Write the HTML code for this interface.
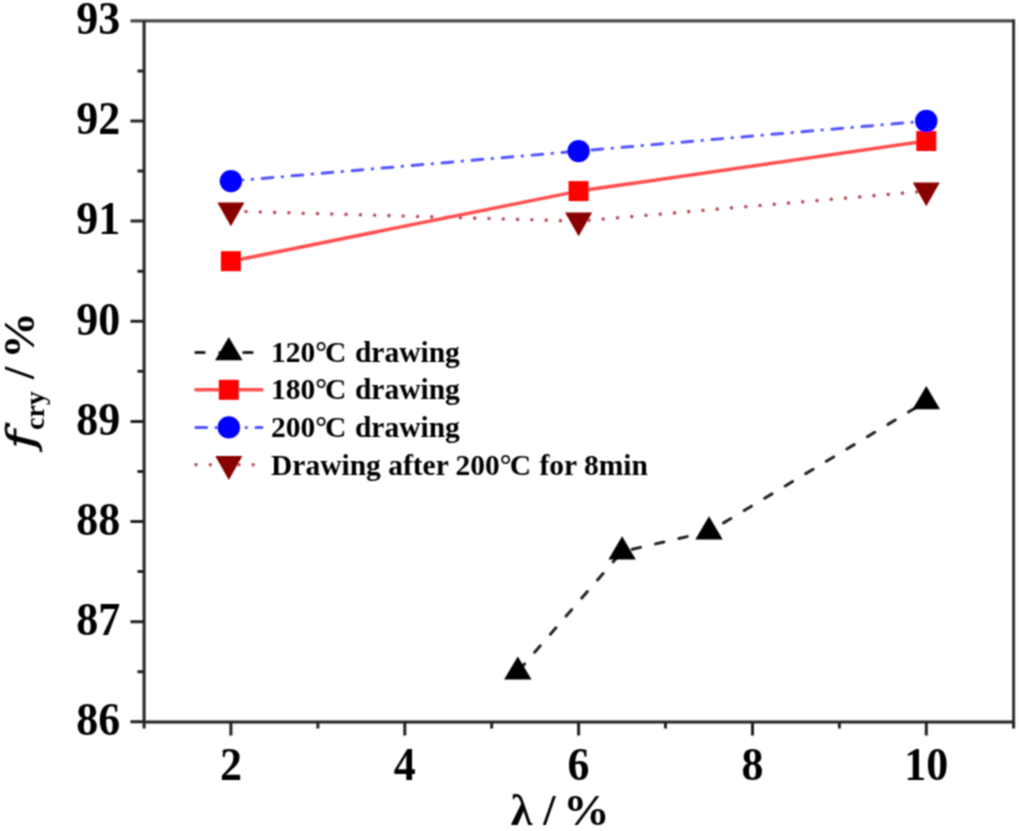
<!DOCTYPE html><html><head><meta charset="utf-8"><style>html,body{margin:0;padding:0;background:#fff;}svg{display:block;}text{font-family:"Liberation Serif",serif;font-weight:bold;fill:#000;}</style></head><body>
<svg width="1020" height="831" viewBox="0 0 1020 831">
<defs><filter id="bl" x="0" y="0" width="1020" height="831" filterUnits="userSpaceOnUse"><feConvolveMatrix order="3" kernelMatrix="1 2 1 2 4 2 1 2 1" divisor="0" edgeMode="duplicate" preserveAlpha="false"/></filter></defs>
<rect width="1020" height="831" fill="#fff"/>
<g filter="url(#bl)">
<path d="M130.5,20.9 H1013.6" fill="none" stroke="#4a4a4a" stroke-width="3.4"/>
<path d="M1013.6,19.2 V721.9" fill="none" stroke="#333" stroke-width="3"/>
<path d="M144.1,20.9 V721.9 H1013.6" fill="none" stroke="#222" stroke-width="3" stroke-linejoin="miter"/>
<path d="M130.5,721.8H144.1M130.5,621.7H144.1M130.5,521.5H144.1M130.5,421.4H144.1M130.5,321.3H144.1M130.5,221.1H144.1M130.5,121.0H144.1M137.5,671.7H144.1M137.5,571.6H144.1M137.5,471.5H144.1M137.5,371.3H144.1M137.5,271.2H144.1M137.5,171.1H144.1M137.5,71.0H144.1M230.9,721.9V735.5M404.8,721.9V735.5M578.6,721.9V735.5M752.5,721.9V735.5M926.3,721.9V735.5M144.1,721.9V728.4M317.9,721.9V728.4M491.7,721.9V728.4M665.5,721.9V728.4M839.4,721.9V728.4M1013.6,721.9V728.4" fill="none" stroke="#222" stroke-width="3"/>
<text transform="translate(120.2,735.1) scale(1,1.045)" font-size="44" text-anchor="end">86</text>
<text transform="translate(120.2,635.0) scale(1,1.045)" font-size="44" text-anchor="end">87</text>
<text transform="translate(120.2,534.8) scale(1,1.045)" font-size="44" text-anchor="end">88</text>
<text transform="translate(120.2,434.7) scale(1,1.045)" font-size="44" text-anchor="end">89</text>
<text transform="translate(120.2,334.6) scale(1,1.045)" font-size="44" text-anchor="end">90</text>
<text transform="translate(120.2,234.4) scale(1,1.045)" font-size="44" text-anchor="end">91</text>
<text transform="translate(120.2,134.3) scale(1,1.045)" font-size="44" text-anchor="end">92</text>
<text transform="translate(120.2,34.2) scale(1,1.045)" font-size="44" text-anchor="end">93</text>
<text transform="translate(230.9,779.6) scale(1,1.045)" font-size="44" text-anchor="middle">2</text>
<text transform="translate(404.8,779.6) scale(1,1.045)" font-size="44" text-anchor="middle">4</text>
<text transform="translate(578.6,779.6) scale(1,1.045)" font-size="44" text-anchor="middle">6</text>
<text transform="translate(752.5,779.6) scale(1,1.045)" font-size="44" text-anchor="middle">8</text>
<text transform="translate(926.3,779.6) scale(1,1.045)" font-size="44" text-anchor="middle">10</text>
<text x="510.7" y="825.4" font-size="44">λ /</text>
<text transform="translate(563.2,825.4) scale(1.055,1)" font-size="44">%</text>
<text transform="translate(33.9,448.7) rotate(-90) scale(1.28,1)" font-size="39" style="font-family:'DejaVu Serif',serif;font-weight:normal;font-style:italic;stroke:#000;stroke-width:0.7">f</text>
<text transform="translate(43.7,430) rotate(-90)" font-size="28">cry</text>
<text transform="translate(33.5,379) rotate(-90)" font-size="44">/</text>
<text transform="translate(33.5,358.8) rotate(-90) scale(1.062,1)" font-size="44">%</text>
<path d="M230.9,211.1L578.6,221.1L926.3,191.1" fill="none" stroke="#b8505a" stroke-width="3.6" stroke-linecap="round" stroke-linejoin="round" stroke-dasharray="0.01 14.29" stroke-dashoffset="-0.8"/>
<path d="M230.9,261.2L578.6,191.1L926.3,141.0" fill="none" stroke="#ff5050" stroke-width="3.5" stroke-linecap="round" stroke-linejoin="round"/>
<path d="M230.9,181.1L578.6,151.1L926.3,121.0" fill="none" stroke="#5555ff" stroke-width="3" stroke-linecap="round" stroke-linejoin="round" stroke-dasharray="10.8 9.3 0.5 9.5" stroke-dashoffset="-1.2"/>
<path d="M517.8,671.7L622.1,551.6L709.0,531.6L926.3,401.4" fill="none" stroke="#222" stroke-width="3" stroke-linecap="round" stroke-linejoin="round" stroke-dasharray="8.5 15.45" stroke-dashoffset="-1.8"/>
<path d="M230.9,226.3L244.4,202.4L217.4,202.4Z" fill="#880000"/>
<path d="M578.6,236.3L592.1,212.4L565.1,212.4Z" fill="#880000"/>
<path d="M926.3,206.3L939.8,182.4L912.8,182.4Z" fill="#880000"/>
<rect x="220.9" y="251.2" width="20" height="20" fill="#f00"/>
<rect x="568.6" y="181.1" width="20" height="20" fill="#f00"/>
<rect x="916.3" y="131.0" width="20" height="20" fill="#f00"/>
<circle cx="230.9" cy="181.1" r="11.2" fill="#00f"/>
<circle cx="578.6" cy="151.1" r="11.2" fill="#00f"/>
<circle cx="926.3" cy="121.0" r="11.2" fill="#00f"/>
<path d="M517.8,656.4L531.5,679.6L504.1,679.6Z" fill="#000"/>
<path d="M622.1,536.3L635.8,559.5L608.4,559.5Z" fill="#000"/>
<path d="M709.0,516.3L722.7,539.5L695.3,539.5Z" fill="#000"/>
<path d="M926.3,386.1L940.0,409.3L912.6,409.3Z" fill="#000"/>
<path d="M195.8,352.4L261.9,352.4" fill="none" stroke="#222" stroke-width="3" stroke-linecap="round" stroke-linejoin="round" stroke-dasharray="8.5 15.45" stroke-dashoffset="0"/>
<path d="M228.8,337.1L242.5,360.3L215.1,360.3Z" fill="#000"/>
<path d="M195.8,389.8L261.9,389.8" fill="none" stroke="#ff5050" stroke-width="3.5" stroke-linecap="round" stroke-linejoin="round"/>
<rect x="218.8" y="379.8" width="20" height="20" fill="#f00"/>
<path d="M195.8,427.4L261.9,427.4" fill="none" stroke="#5555ff" stroke-width="3" stroke-linecap="round" stroke-linejoin="round" stroke-dasharray="10.8 9.3 0.5 9.5" stroke-dashoffset="0"/>
<circle cx="228.8" cy="427.4" r="11.2" fill="#00f"/>
<path d="M196.0,464.8L263.4,464.8" fill="none" stroke="#b8505a" stroke-width="3.6" stroke-linecap="round" stroke-linejoin="round" stroke-dasharray="0.01 14.29" stroke-dashoffset="0"/>
<path d="M228.8,480.0L242.3,456.1L215.3,456.1Z" fill="#880000"/>
<text x="271" y="361.7" font-size="29.5">120°<tspan dx="-2">C</tspan><tspan dx="1.2"> </tspan>drawing</text>
<text x="271" y="399.2" font-size="29.5">180°<tspan dx="-2">C</tspan><tspan dx="1.2"> </tspan>drawing</text>
<text x="271" y="436.7" font-size="29.5">200°<tspan dx="-2">C</tspan><tspan dx="1.2"> </tspan>drawing</text>
<text x="271" y="475.0" font-size="29.5">Drawing after 200°<tspan dx="-2">C</tspan><tspan dx="1.2"> </tspan>for 8min</text>
</g></svg></body></html>
